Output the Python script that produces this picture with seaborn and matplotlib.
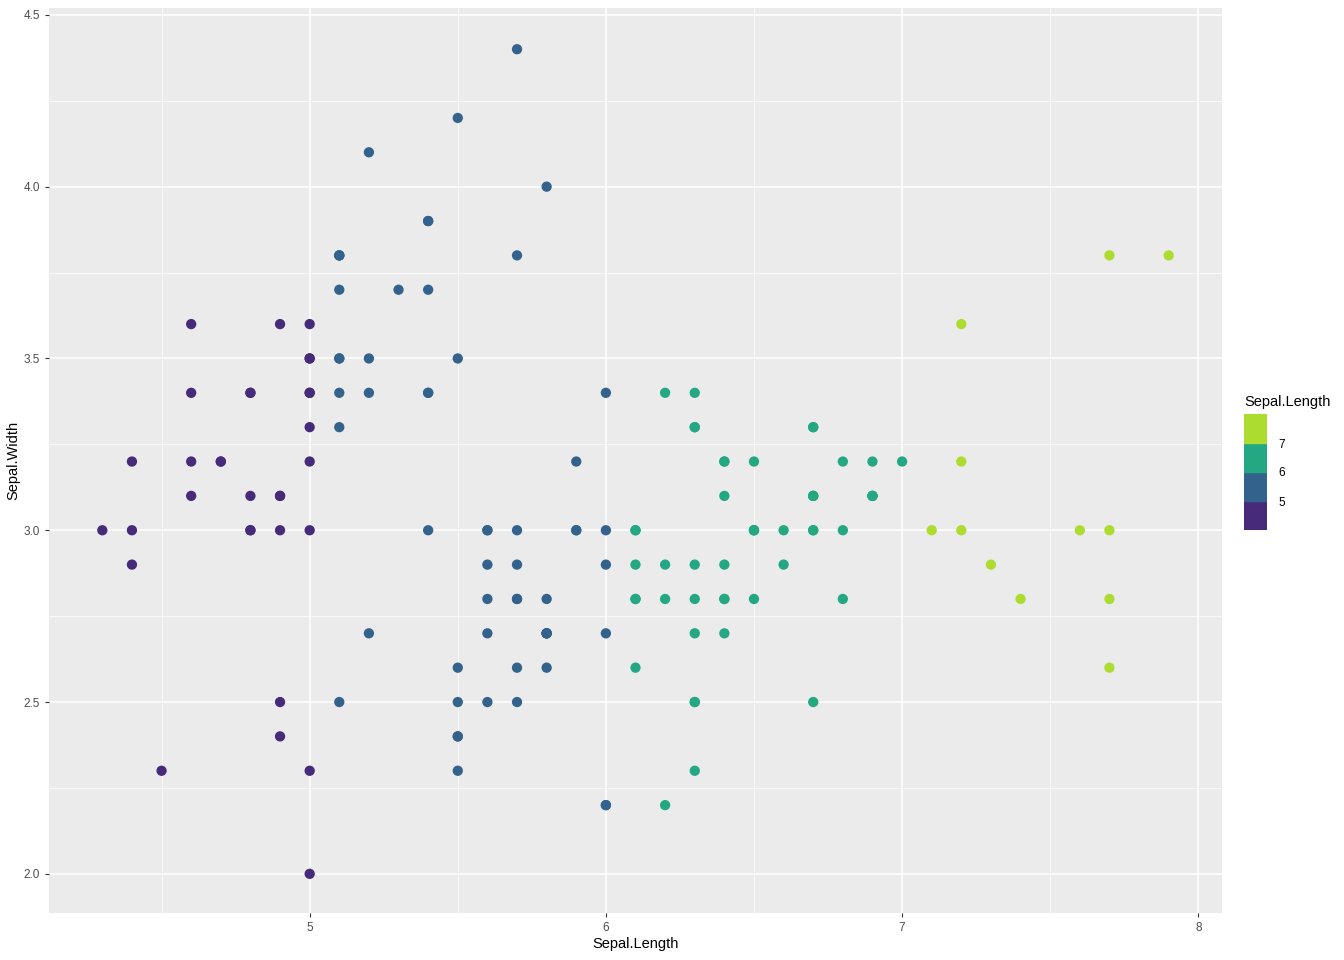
import matplotlib
matplotlib.use("Agg")
import matplotlib.pyplot as plt
import seaborn as sns
import pandas as pd
import numpy as np

sepal_length = [5.1,4.9,4.7,4.6,5.0,5.4,4.6,5.0,4.4,4.9,5.4,4.8,4.8,4.3,5.8,5.7,5.4,5.1,5.7,5.1,
 5.4,5.1,4.6,5.1,4.8,5.0,5.0,5.2,5.2,4.7,4.8,5.4,5.2,5.5,4.9,5.0,5.5,4.9,4.4,5.1,
 5.0,4.5,4.4,5.0,5.1,4.8,5.1,4.6,5.3,5.0,
 7.0,6.4,6.9,5.5,6.5,5.7,6.3,4.9,6.6,5.2,5.0,5.9,6.0,6.1,5.6,6.7,5.6,5.8,6.2,5.6,
 5.9,6.1,6.3,6.1,6.4,6.6,6.8,6.7,6.0,5.7,5.5,5.5,5.8,6.0,5.4,6.0,6.7,6.3,5.6,5.5,
 5.5,6.1,5.8,5.0,5.6,5.7,5.7,6.2,5.1,5.7,
 6.3,5.8,7.1,6.3,6.5,7.6,4.9,7.3,6.7,7.2,6.5,6.4,6.8,5.7,5.8,6.4,6.5,7.7,7.7,6.0,
 6.9,5.6,7.7,6.3,6.7,7.2,6.2,6.1,6.4,7.2,7.4,7.9,6.4,6.3,6.1,7.7,6.3,6.4,6.0,6.9,
 6.7,6.9,5.8,6.8,6.7,6.7,6.3,6.5,6.2,5.9]
sepal_width = [3.5,3.0,3.2,3.1,3.6,3.9,3.4,3.4,2.9,3.1,3.7,3.4,3.0,3.0,4.0,4.4,3.9,3.5,3.8,3.8,
 3.4,3.7,3.6,3.3,3.4,3.0,3.4,3.5,3.4,3.2,3.1,3.4,4.1,4.2,3.1,3.2,3.5,3.6,3.0,3.4,
 3.5,2.3,3.2,3.5,3.8,3.0,3.8,3.2,3.7,3.3,
 3.2,3.2,3.1,2.3,2.8,2.8,3.3,2.4,2.9,2.7,2.0,3.0,2.2,2.9,2.9,3.1,3.0,2.7,2.2,2.5,
 3.2,2.8,2.5,2.8,2.9,3.0,2.8,3.0,2.9,2.6,2.4,2.4,2.7,2.7,3.0,3.4,3.1,2.3,3.0,2.5,
 2.6,3.0,2.6,2.3,2.7,3.0,2.9,2.9,2.5,2.8,
 3.3,2.7,3.0,2.9,3.0,3.0,2.5,2.9,2.5,3.6,3.2,2.7,3.0,2.5,2.8,3.2,3.0,3.8,2.6,2.2,
 3.2,2.8,2.8,2.7,3.3,3.2,2.8,3.0,2.8,3.0,2.8,3.8,2.8,2.8,2.6,3.0,3.4,3.1,3.0,3.1,
 3.1,3.1,2.7,3.2,3.3,3.0,2.5,3.0,3.4,3.0]
bin_breaks = [5, 6, 7]
bin_colors = ["#472A7A", "#33638D", "#24A884", "#ADDC30"]

plt.rcParams['font.family'] = ['Liberation Sans', 'DejaVu Sans']

df = pd.DataFrame({"Sepal.Length": sepal_length, "Sepal.Width": sepal_width})
df["bin"] = np.searchsorted(bin_breaks, np.round(df["Sepal.Length"], 3), side="left")

fig = plt.figure(figsize=(13.44, 9.6), dpi=100)
ax = fig.add_axes([49/1344, 1-913/960, (1222-49)/1344, (913-8)/960])
ax.set_facecolor("#EBEBEB")
sns.scatterplot(data=df, x="Sepal.Length", y="Sepal.Width", hue="bin",
                palette=dict(enumerate(bin_colors)), s=55, linewidth=0,
                legend=False, ax=ax, zorder=3)
ax.set_xlim(4.12, 8.08)
ax.set_ylim(1.886, 4.520)
ax.set_xticks([5, 6, 7, 8])
ax.set_xticks([4.5, 5.5, 6.5, 7.5], minor=True)
ax.set_yticks([2.0, 2.5, 3.0, 3.5, 4.0, 4.5])
ax.set_yticklabels(["2.0", "2.5", "3.0", "3.5", "4.0", "4.5"])
ax.set_yticks([2.25, 2.75, 3.25, 3.75, 4.25], minor=True)
ax.grid(which="major", color="white", linewidth=1.1, zorder=0)
ax.grid(which="minor", color="white", linewidth=0.5, zorder=0)
ax.set_axisbelow(True)
for s in ax.spines.values():
    s.set_visible(False)
ax.tick_params(which="major", length=3, color="#333333", labelsize=8.5, labelcolor="#4D4D4D")
ax.tick_params(which="minor", length=0)
ax.set_xlabel("Sepal.Length", fontsize=10.5, labelpad=2)
ax.set_ylabel("Sepal.Width", fontsize=10.5, labelpad=2)

# binned legend
lax = fig.add_axes([1244/1344, 1-530/960, 23/1344, 116/960])
for i, c in enumerate(bin_colors):
    lax.add_patch(plt.Rectangle((0, i), 1, 1, color=c))
lax.set_xlim(0, 1); lax.set_ylim(0, 4)
lax.set_xticks([])
lax.yaxis.tick_right()
lax.set_yticks([1, 2, 3])
lax.set_yticklabels([str(b) for b in bin_breaks])
lax.tick_params(axis="y", length=0, labelsize=8.5, pad=8)
for s in lax.spines.values():
    s.set_visible(False)
fig.text(1244/1344, 1-402/960, "Sepal.Length", fontsize=10.5, va="center", ha="left")

fig.savefig("out.png", dpi=100)
